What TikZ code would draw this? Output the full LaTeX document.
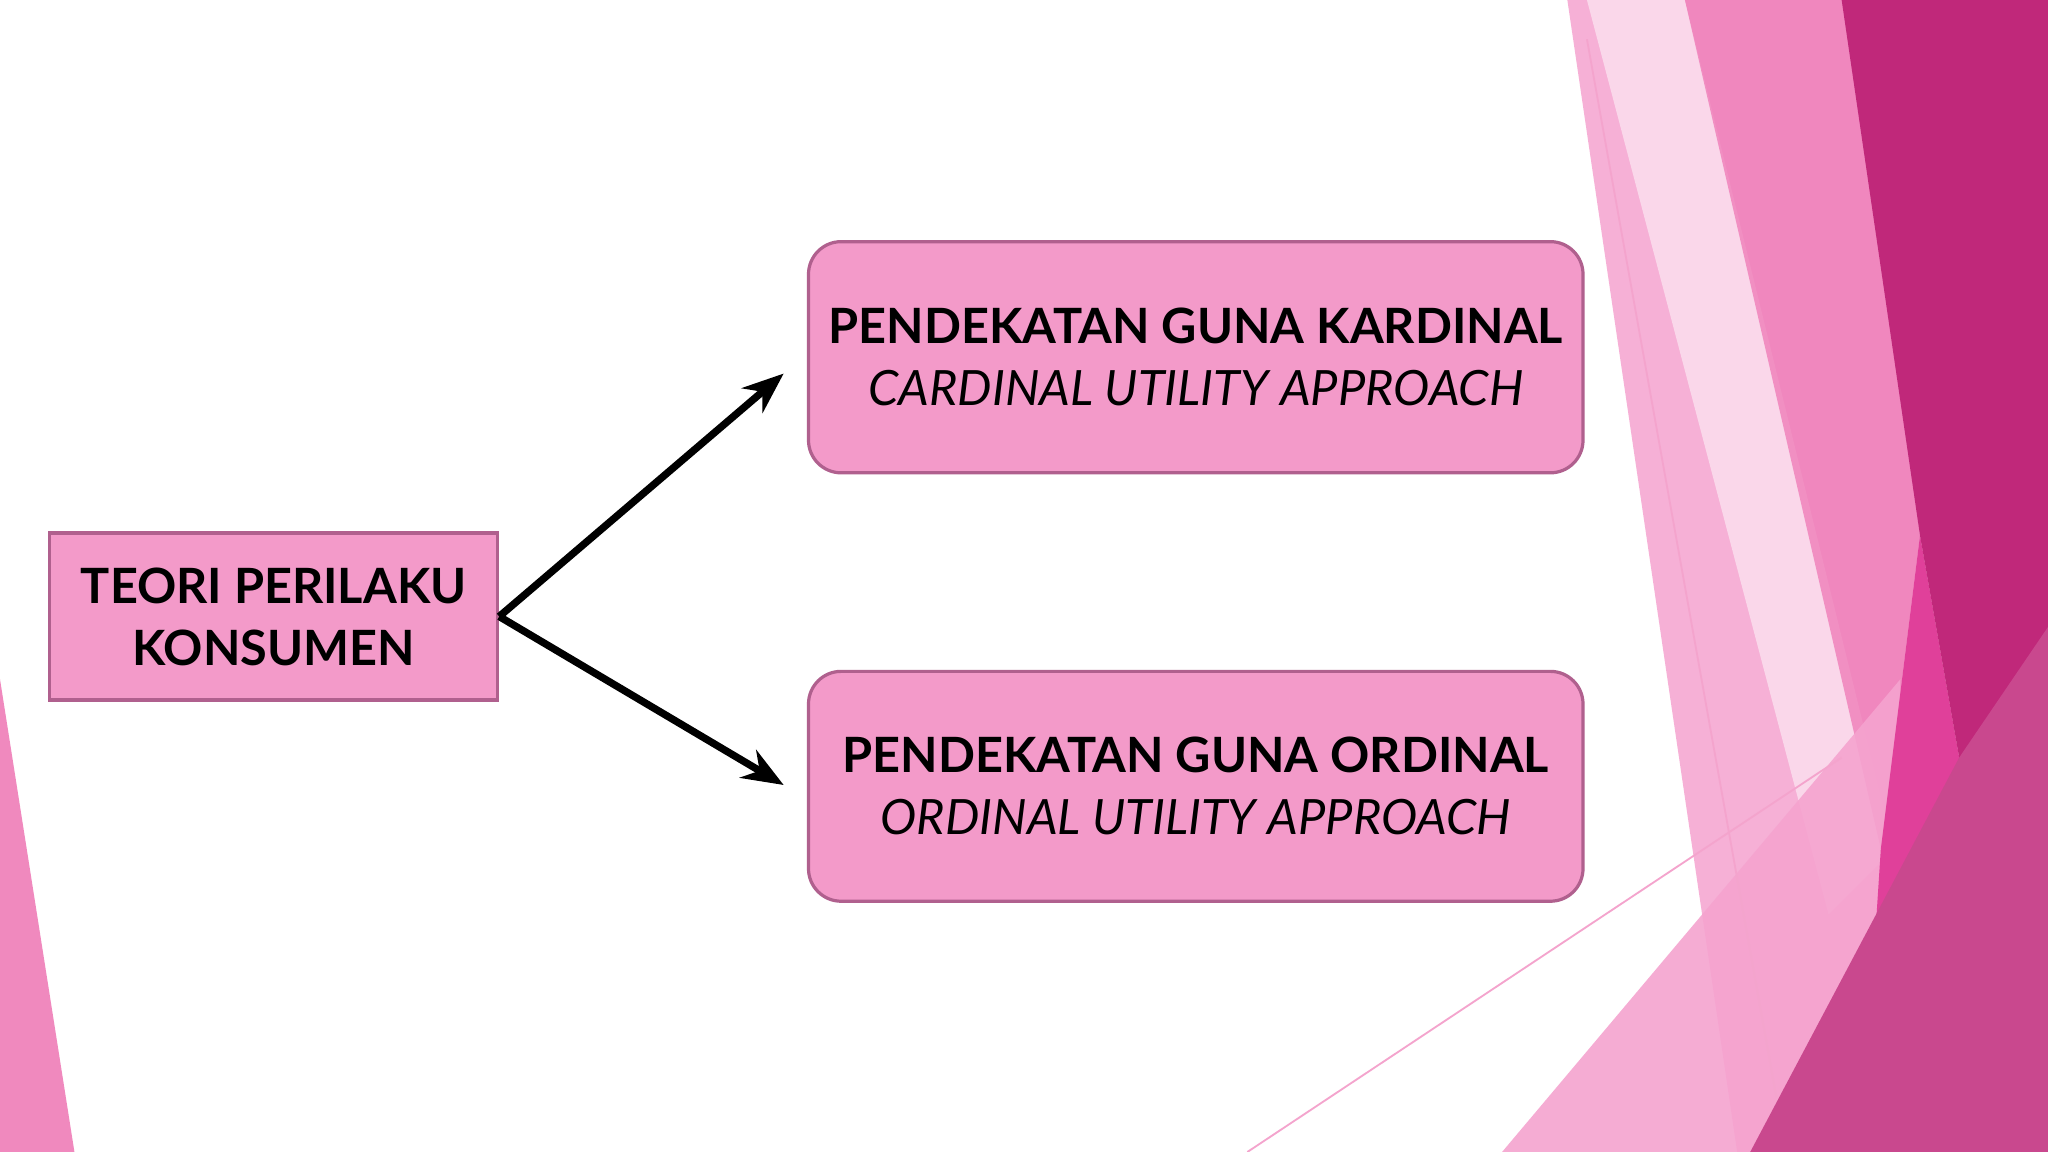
\documentclass[tikz,border=0pt]{standalone}
\usepackage{fontspec}
\setmainfont{Lato}
\usetikzlibrary{arrows.meta}
\definecolor{boxfill}{HTML}{F39AC9}
\definecolor{boxline}{HTML}{B0608E}
\definecolor{pk1}{HTML}{F5A3CF}
\definecolor{pk2}{HTML}{EF7DB8}
\definecolor{pk3}{HTML}{C0287A}
\definecolor{pk4}{HTML}{E0409A}
\tikzset{
 box/.style={fill=boxfill,draw=boxline,line width=0.7pt,align=center,font=\bfseries\fontsize{10.6}{13.5}\selectfont,inner sep=0pt},
 conn/.style={line width=1.6pt,-{Stealth[length=9pt,width=7pt]}}
}
\begin{document}
\begin{tikzpicture}[x=0.1mm,y=-0.1mm]
\useasboundingbox (0,0) rectangle (1568,882);
\fill[white] (0,0) rectangle (1568,882);
% decorations
\fill[pk1,opacity=0.85] (1200,0) -- (1420,0) -- (1510,560) -- (1440,882) -- (1330,882) -- cycle;
\fill[white,opacity=0.5] (1215,0) -- (1290,0) -- (1450,650) -- (1400,700) -- cycle;
\fill[pk2,opacity=0.8] (1290,0) -- (1420,0) -- (1470,410) -- (1440,650) -- cycle;
\fill[pk1,opacity=0.9] (1150,882) -- (1455,520) -- (1450,882) -- cycle;
\fill[pk4] (1440,650) -- (1470,410) -- (1500,580) -- (1440,882) -- (1425,882) -- cycle;
\fill[pk3] (1410,0) -- (1568,0) -- (1568,882) -- (1440,882) -- (1500,580) -- (1470,410) -- cycle;
\fill[pk3!85!white] (1340,882) -- (1500,580) -- (1568,480) -- (1568,882) -- cycle;
\fill[pk2,opacity=0.9] (0,520) -- (57,882) -- (0,882) -- cycle;
\draw[pk2!70!white,line width=0.4pt] (1215,30) -- (1360,840);
\draw[pk2!70!white,line width=0.4pt] (955,882) -- (1410,580);
% boxes
\node[box,minimum width=34.3mm,minimum height=12.8mm] (teori) at (209.5,472) {TEORI PERILAKU\\KONSUMEN};
\node[box,rounded corners=2.5mm,minimum width=59.3mm,minimum height=17.7mm] (kard) at (915.5,273.5) {PENDEKATAN GUNA KARDINAL\\{\mdseries\itshape CARDINAL UTILITY APPROACH}};
\node[box,rounded corners=2.5mm,minimum width=59.3mm,minimum height=17.6mm] (ord) at (915.5,602) {PENDEKATAN GUNA ORDINAL\\{\mdseries\itshape ORDINAL UTILITY APPROACH}};
\coordinate (a1) at (600,286);
\coordinate (a2) at (600,601);
\draw[conn] (teori.east) -- (a1);
\draw[conn] (teori.east) -- (a2);
\end{tikzpicture}
\end{document}
